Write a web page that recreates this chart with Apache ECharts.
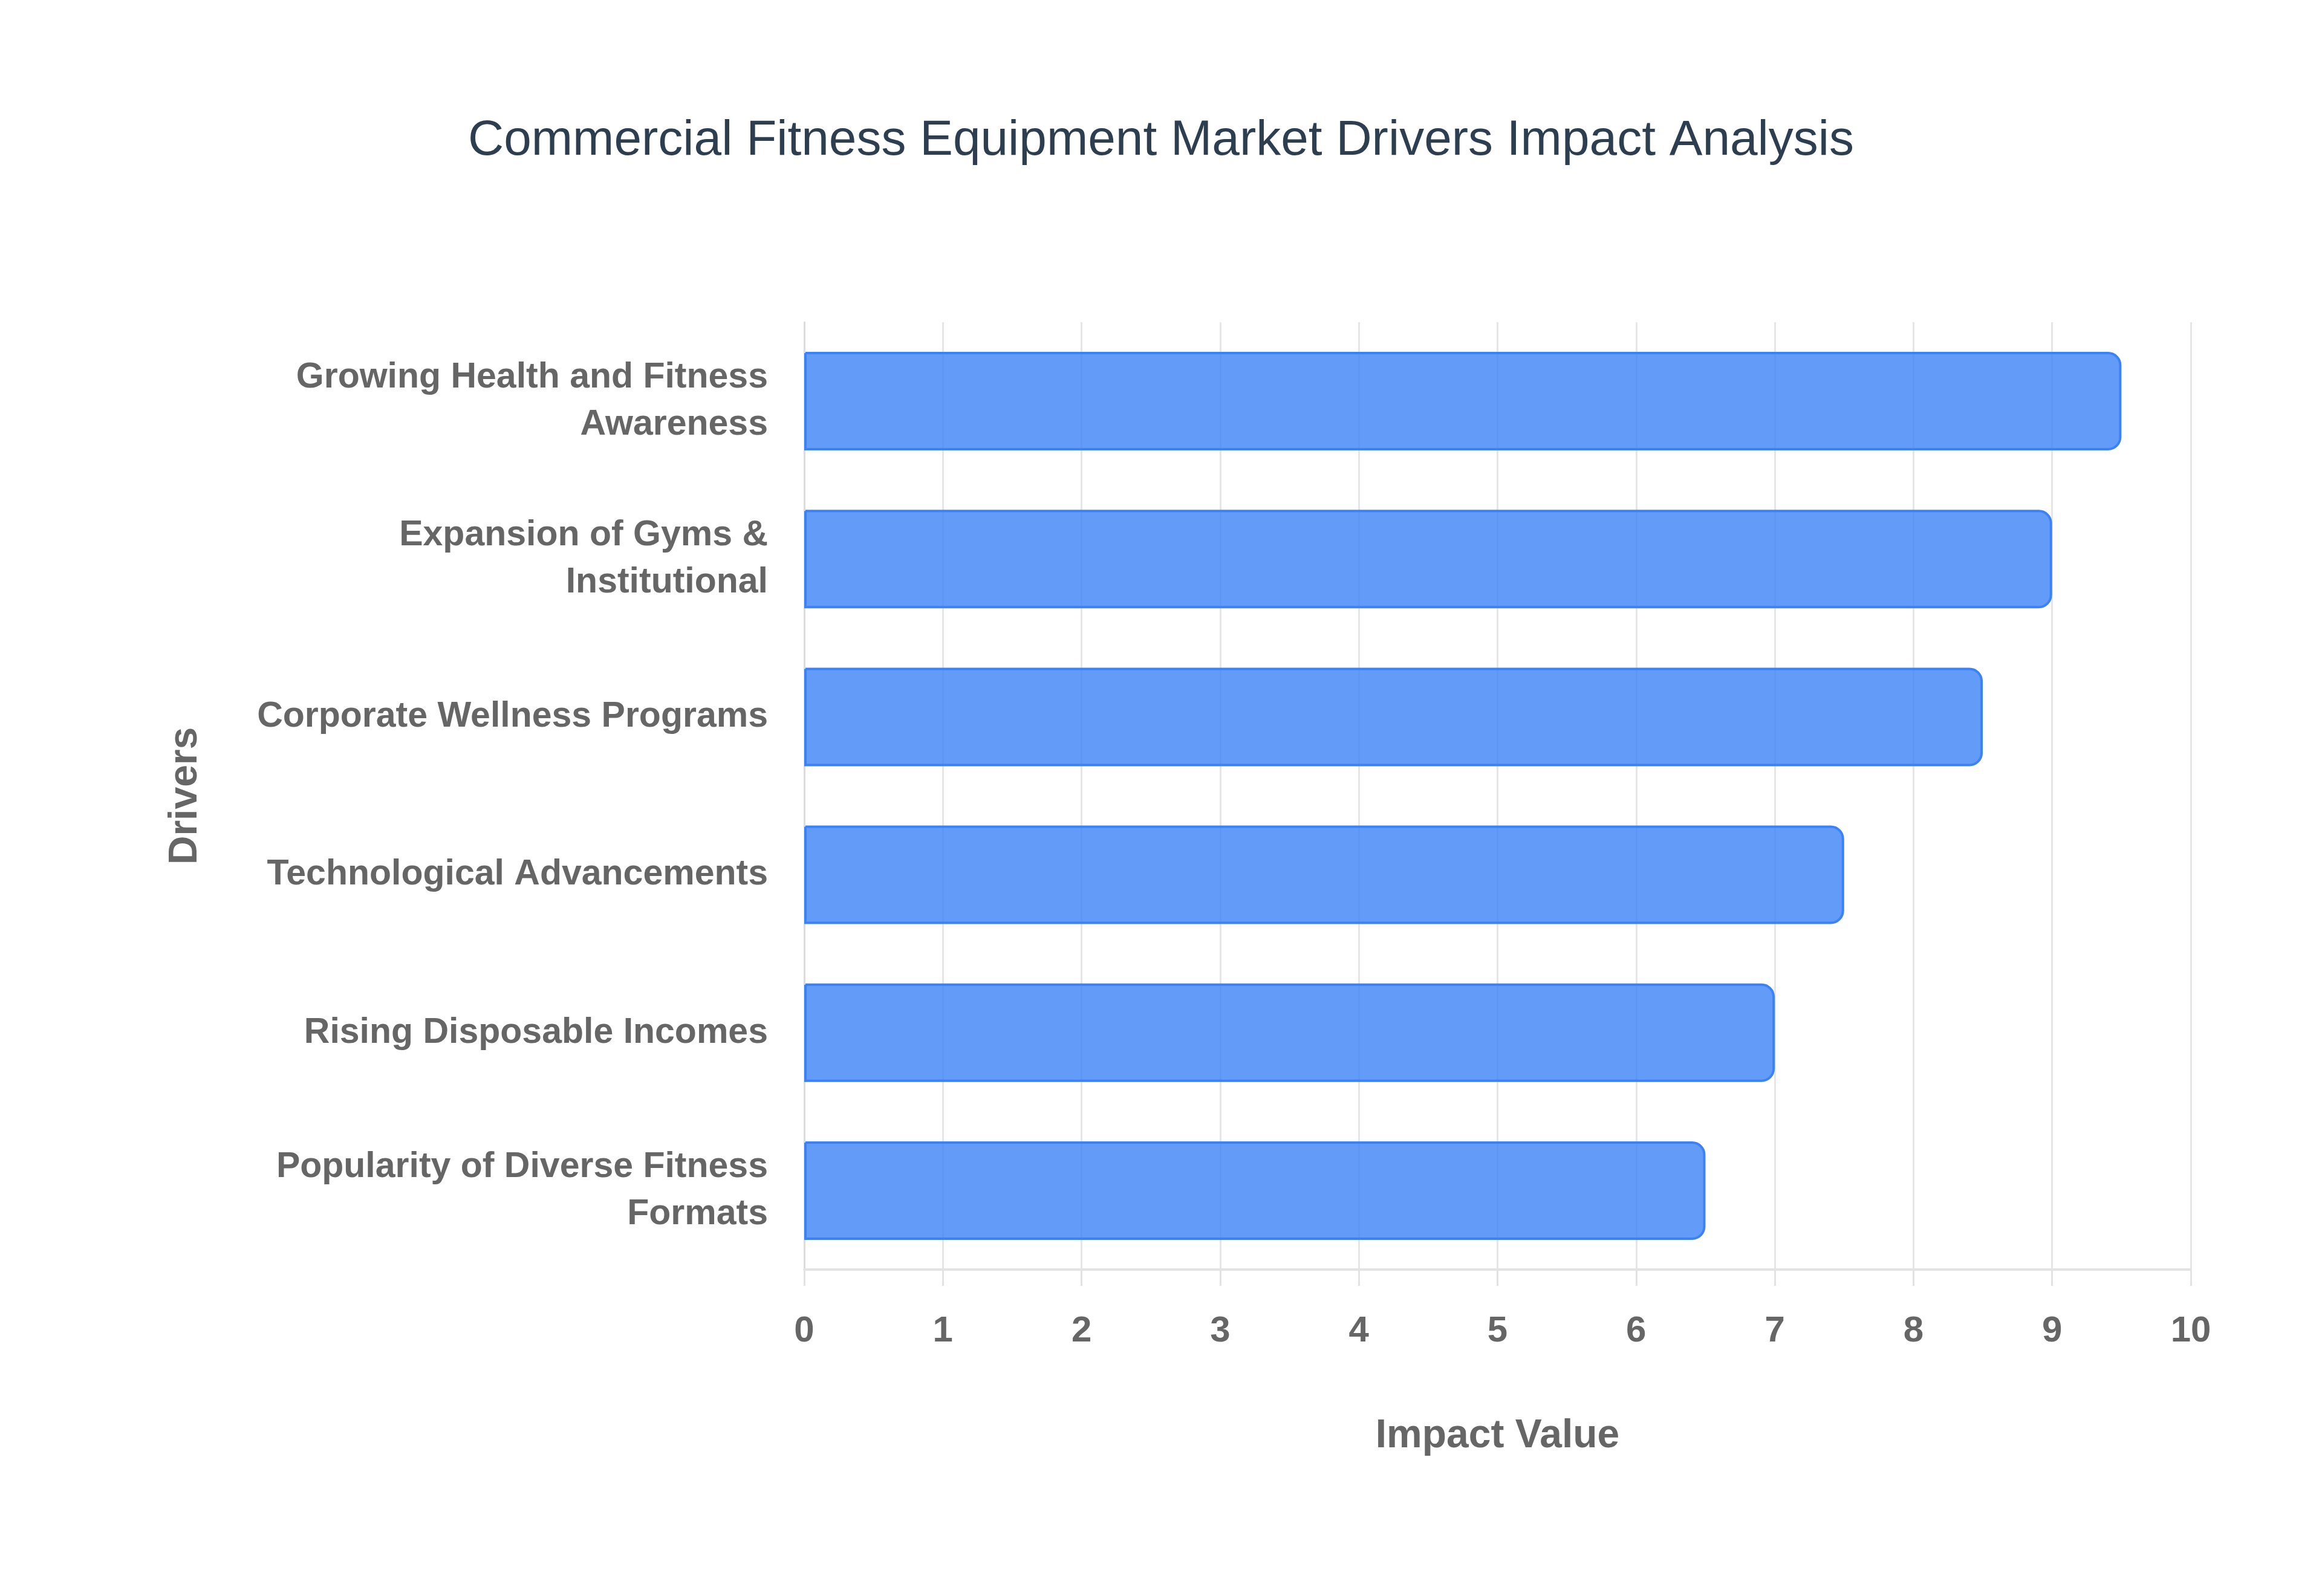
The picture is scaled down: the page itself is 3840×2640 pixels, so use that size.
<!DOCTYPE html>
<html>
<head>
<meta charset="utf-8">
<script src="https://cdn.jsdelivr.net/npm/echarts@6/dist/echarts.min.js"></script>
<style>
html,body{margin:0;padding:0;background:#fff;}
#chart{width:3840px;height:2640px;}
</style>
</head>
<body>
<div id="chart"></div>
<script>
const titleText = 'Commercial Fitness Equipment Market Drivers Impact Analysis';
const categories = [
  'Popularity of Diverse Fitness Formats',
  'Rising Disposable Incomes',
  'Technological Advancements',
  'Corporate Wellness Programs',
  'Expansion of Gyms & Institutional',
  'Growing Health and Fitness Awareness'
];
const impactValues = [6.5, 7.0, 7.5, 8.5, 9.0, 9.5];
const xAxisName = 'Impact Value';
const yAxisName = 'Drivers';

const labelFont = '"Liberation Sans", Arial, Helvetica, sans-serif';
const yLabelSize = 59;
const yLabelMaxWidth = 900;

// word wrap using canvas measurement (no trailing spaces)
const measureCtx = document.createElement('canvas').getContext('2d');
measureCtx.font = 'bold ' + yLabelSize + 'px ' + labelFont;
function wrapLabel(text) {
  const words = text.split(' ');
  const lines = [];
  let cur = '';
  words.forEach(function (w) {
    const test = cur ? cur + ' ' + w : w;
    if (cur && measureCtx.measureText(test).width > yLabelMaxWidth) {
      lines.push(cur);
      cur = w;
    } else {
      cur = test;
    }
  });
  if (cur) lines.push(cur);
  return lines.join('\n');
}

const chart = echarts.init(document.getElementById('chart'));
chart.setOption({
  backgroundColor: '#ffffff',
  animation: false,
  title: {
    text: titleText,
    left: 'center',
    top: 187,
    textStyle: {
      fontFamily: labelFont,
      fontWeight: 'normal',
      fontSize: 82,
      color: '#2c3e50'
    }
  },
  grid: {
    left: 1330,
    right: 217,
    top: 533,
    bottom: 540,
    containLabel: false
  },
  xAxis: {
    type: 'value',
    min: 0,
    max: 10,
    interval: 1,
    name: xAxisName,
    nameLocation: 'middle',
    nameGap: 243,
    nameTextStyle: {
      fontFamily: labelFont,
      fontWeight: 'bold',
      fontSize: 66,
      color: '#666666'
    },
    axisLine: { show: true, lineStyle: { color: '#e3e3e3', width: 4 } },
    axisTick: { show: true, length: 27, lineStyle: { color: '#e3e3e3', width: 3 } },
    splitLine: { show: true, lineStyle: { color: '#e6e6e6', width: 3 } },
    axisLabel: {
      margin: 72,
      fontFamily: labelFont,
      fontWeight: 'bold',
      fontSize: 60,
      color: '#666666'
    }
  },
  yAxis: {
    type: 'category',
    data: categories,
    name: yAxisName,
    nameLocation: 'middle',
    nameGap: 990,
    nameRotate: 90,
    nameTextStyle: {
      fontFamily: labelFont,
      fontWeight: 'bold',
      fontSize: 66,
      color: '#666666'
    },
    axisLine: { show: true, lineStyle: { color: '#dcdcdc', width: 3 } },
    axisTick: { show: false },
    splitLine: { show: false },
    axisLabel: {
      margin: 60,
      fontFamily: labelFont,
      fontWeight: 'bold',
      fontSize: yLabelSize,
      lineHeight: 78,
      color: '#666666',
      align: 'right',
      formatter: function (v) { return wrapLabel(v); }
    }
  },
  series: [{
    type: 'bar',
    data: impactValues,
    barCategoryGap: '37.6%',
    itemStyle: {
      color: 'rgba(59,130,246,0.8)',
      borderColor: '#3b82f6',
      borderWidth: 4,
      borderRadius: [0, 20, 20, 0]
    }
  }]
});
</script>
</body>
</html>
